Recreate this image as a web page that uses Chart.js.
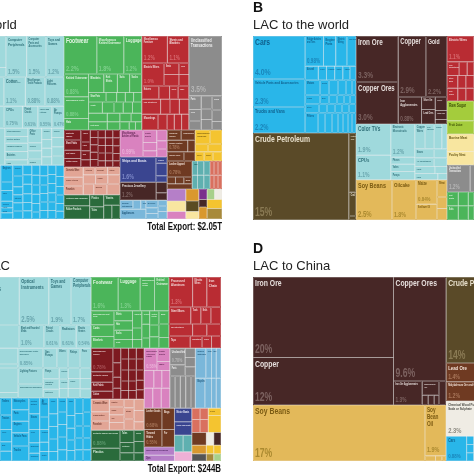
<!DOCTYPE html>
<html><head><meta charset="utf-8">
<style>
html,body{margin:0;padding:0;background:#fff;width:474px;height:474px;overflow:hidden;position:relative}
canvas{position:absolute;filter:blur(.4px)}
</style>
<script src="https://cdn.jsdelivr.net/npm/chart.js@4"></script>
</head><body>
<canvas id="a" width="310" height="237" style="left:-88px;top:0"></canvas>
<canvas id="b" width="310" height="237" style="left:253px;top:0"></canvas>
<canvas id="c" width="310" height="233" style="left:-89px;top:241px"></canvas>
<canvas id="d" width="310" height="233" style="left:253px;top:241px"></canvas>
<script>
// Node forms: number = unnamed product share; L(name,label,share) = named product;
// [sector?, share, ...children] = group of products (children are relative within the group).
const L=(n,p,v)=>({n,p,v});

const titles=["China to the world","LAC to the world","China to the LAC","LAC to China"];
const letters=["A","B","C","D"];
const totals=["Total Export: $2.05T","","Total Export: $244B",""];

// ---------- A: China to the world ----------
const aTeal1=['teal',11.0,[6.8,5.2,L('Telephones','1.6%',1.6)],L('Computer Peripherals','1.5%',1.5),L('Computer Parts and Accessories','1.5%',1.4),L('Toys and Games','1.2%',1.3)];
const aTeal2=['teal',7.8,4.7,L('Cotton...','1.1%',1.1),L('Miscellaneous Textile Products','0.88%',1.0),L('Light Fixtures','0.88%',.97)];
const aTeal3=['teal',5.9,3.6,L('CPUs','0.75%',.72),L('Printed Circuits','0.61%',.6),L('Valves and Fittings','0.55%',.55),L('Air Pumps','0.47%',.47)];
const aTeal4=['teal',9.9,6.05,
 [1.5,L('Stone Machines','',.3),L('Electric Motors','',.25),L('Vacuum Cleaners','',.3),L('Batteries','',.3),L('Fans','',.2)],
 [.9,L('Office Parts','',.35),L('Cables','',.2),.2,L('Razors','',.15)],
 [.65,L('Relays','',.2),.15,.15,.15],
 [.8,L('Clocks','',.2),.2,.2,.2]];
const aBlue=['sky',14.4,8.4,
 [1.14,L('Engines','',.4),.2,L('Cars','',.26),L('Vehicle Parts','',.15),L('Tires','',.12),.15],
 [.95,L('Trucks','',.2),.2,.15,L('Stoves','',.15),.15,.15],
 [.85,.15,.15,.15,.14,.13,.13],[.76,.14,.14,.13,.13,.12,.1],[.76,.15,.13,.12,.12,.12,.12],[.76,.13,.13,.13,.13,.12,.12],[.76,.16,.14,.12,.12,.11,.11]];
const aGreen=['green',12.9,
 [5.2,L('Footwear','2.2%',2.2),L('Miscellaneous Knitted Outerwear','1.8%',1.8),L('Luggage','1.2%',1.2)],
 [7.7,
  [25,L('Knitted Outerwear','0.88%',.9),L('Miscellaneous Textile','0.88%',.85),L('Hats','',.45)],
  [54,
   [1.9,L('Blankets','',.5),L('Knit Shirts','',.45),L('Suits','',.4),L('Socks','',.4)],
   [.95,L('Shoe Parts','',.3),.18,.15,.14,.14],
   [1.15,L('Coats','',.3),.25,.2,.2,.2],
   [.85,.3,.2,.18,.17],
   [.85,L('Knit Wear','',.3),.2,.15,.1,.1]]]];
const aRed=['red',7.8,
 [2.25,L('Miscellaneous Furniture','1.2%',1.2),L('Sheets and Blankets','1.1%',1.0)],
 [1.9,[.9,L('Electric Wires','1.0%',1)],[.6,L('Seats','',.3),.3],[.4,L('Tiles','',.2),.2]],
 [1.1,L('Knives','',.4),.25,L('Tools','',.2),L('Taps','',.25)],
 [1.25,L('Iron Structures','',.5),.25,.25,.25],
 [1.3,L('Mountings','',.45),.25,.2,.2,.2]];
const aGray=['gray',5.5,L('Unclassified Transactions','3.5%',3.5),
 [2.0,[.75,L('Parts','',.3),L('Toys','',.25),.2],[.65,.25,.2,.2],[.6,L('Wood','',.25),.2,.15]]];
const aDarkRed=['darkred',3.65,
 [1.1,L('Synthetic Fabrics','',.3),L('Sheet Fabric','',.3),L('Knit Fabric','',.25),L('Cotton Fabric','',.25)],
 [.62,L('Yarns','',.2),L('Lace','',.15),L('Silk','',.15),.12],
 [.5,.1,.1,.1,.1,.1],[.48,.1,.1,.1,.1,.08],[.48,.1,.1,.1,.1,.08],[.47,.1,.1,.1,.09,.08]];
const aSalmon=['salmon',2.75,
 [.95,L('Ceramic Ware','',.35),L('Glass Articles','',.3),L('Porcelain','',.3)],
 [1.8,[.5,L('Articles','',.16),L('Cement','',.17),L('Stone','',.17)],[.6,.2,L('Glass','',.2),.2],[.7,.2,L('Mirrors','',.25),.25]]];
const aDarkGreen=['dkgreen',2.4,
 [1.1,L('Fertilizers and Chemicals','',.5),L('Rubber Products','',.6)],
 [.6,L('Plastics','',.5),L('Tubes','',.5)],
 [.7,[.3,L('Vitamins','',.5)],[.4,.5,.5]]];
const aPink=['pink',2.25,L('Miscellaneous Articles of Plastic','0.99%',1.1),[.65,L('Plastic Sheets','',.3),.2,.15],[.5,.2,.15,.15]];
const aNavy=['navy',2.1,L('Ships and Boats','1.6%',1.6),[.5,L('Planes','',.12),.25,.13]];
const aDarkBrown=['iron',1.5,L('Precious Jewellery','1.2%',1.15),[.35,.2,.15]];
const aLightBlue=['ltblue',1.55,[.85,[.4,L('Medical Instruments','',.5),.3,L('Scales','',.2)],[.45,L('Appliances','',.5)]],[.4,L('Bicycles','',.4),.3,.3],[.3,.3,.3,.4]];
const aMix=[2.9,
 [1,['purple',.4],['cream',.35],['pink',.25]],
 [.7,['gold',.4],['olive',.35],['cream',.25]],
 [.45,['violet',.35],['iron',.25],['gold',.4]],
 [.8,[.35,['ltgreen',.5],['ivory',.5]],['yellow',.3],['tan',.35]]];
const aBottom3=[8.6,
 [3.0,['brown',1.53,[.5,L('Chemical Fabrics','',.25),L('Compounds','',.25)],[.55,L('Tanned Leather','0.78%',.55),.2],[.45,L('Rubber Tires','',.3),.2]],
      ['yellow',1.47,[.45,L('Miscellaneous Chemicals','',.25),.2],[.25,.12,.13],[.3,L('Dyes','',.1),L('Paint','',.1),.1]]],
 [2.7,['brown',1.23,L('Leather Apparel','0.78%',.7),[.3,.1,.1,L('Bags','',.1)],[.23,.23]],
      ['teal2',.88,[.45,L('Seafood','',.3),.35,.35],[.43,.3,.35,.35]],
      ['rose',.59,[.3,.3,.3,.3],[.29,.3,.3,.3]]],
 aMix];
const panelA=[100,
 [49,aTeal1,aTeal2,aTeal3,aTeal4,aBlue],
 [51,
  [26.2,aGreen,aRed,aGray],
  [24.8,[8.8,aDarkRed,aSalmon,aDarkGreen],[7.4,aPink,aNavy,aDarkBrown,aLightBlue],aBottom3]]];

// ---------- B: LAC to the world ----------
const bCars=['sky',17.5,
 [8.85,L('Cars','4.0%',3.9),L('Vehicle Parts and Accessories','2.3%',2.55),L('Trucks and Vans','2.2%',2.35)],
 [8.65,
  [2.7,L('Rubber Articles and Tires','0.98%',.95),L('Engine Parts','',.63),L('Electric Wiring','',.58),L('Tractors','',.47)],
  [1.25,L('Aircraft','',13),L('Tires','',8),L('Pumps','',8),L('Parts','',8),L('Valves','',7),6],
  [1.34,L('Motors','',15),L('Seats','',9),9,8,6,4],
  [.8,L('Glass','',15),L('Bus','',9),8,7,6,6],
  [.8,L('Steel','',14),8,8,7,7,7],
  [1.8,L('Filters','',13),7,7,6,5,5,4,4]]];
const bCrude=['crude',15.7,L('Crude Petroleum','15%',14.6),[1.1,L('Petroleum Gas','',.75),L('Coal','',.3),.05]];
const bBrown=['iron',14,
 [6.5,L('Iron Ore','3.3%',3.4),L('Copper Ores','3.0%',3.1)],
 [7.5,
  [5.2,L('Copper','2.9%',2.9),L('Gold','2.2%',2.2)],
  [2.3,L('Iron Agglomerates','0.88%',1.1),[.65,L('Silver Ore','',.3),L('Lead Ores','',.35)],[.55,L('Silver','',.3),L('Raw Iron','',.2),.1]]]];
const bTeal=['teal',8.9,
 [3.4,L('Color TVs','1.9%',1.9),L('CPUs','1.1%',1.5)],
 [2.35,L('Electronic Microcircuits','1.2%',1.4),L('Phones','',.3),L('Valves','',.3),L('Pumps','',.35)],
 [3.15,
  [1.4,L('Copper Wires','',.4),L('Gas Turbines','',.35),L('Transformers','',.3),.2],
  [.5,L('Stoves','',.3),.2],[.5,L('Air Conditioners','',.3),.2],[.4,L('Parts','',.25),.15],[.35,L('Fans','',.25),.1]]];
const bSoy=['soy',6.4,L('Soy Beans','2.5%',2.53),L('Oilcake','1.8%',1.69),
 [1.48,L('Maize','0.84%',.9),L('Sunflower Oil','',.58)],
 [.7,L('Wheat','',.3),.2,.2]];
const bRed=['red',13.2,
 [3.07,
  [1.22,L('Electric Wires','1.1%',1)],
  [.65,L('Iron Reductions','',.45),.3,.25],
  [.6,L('Steel Bars','',.4),.3,.3],
  [.6,L('Iron Pipes','',.4),.3,.3]],
 10.13];
const bLime=['lime',6.7,[1.56,L('Raw Sugar','',.94),L('Fruit Juice','',.62)],5.14];
const bCream=['cream',6.3,[1.47,L('Bovine Meat','',.83),L('Poultry Meat','',.64)],4.83];
const bGray=['gray',5.5,L('Unclassified Transactions','1.2%',1.1),4.4];
const bGreen=['green',5.7,[1.33,[.65,L('Knit Shirts','',.4),.35,.2],[.68,L('Suits','',.4),.35,.2]],4.37];
const panelB=[100,
 [33.2,bCars,bCrude],
 [29.3,bBrown,bTeal,bSoy],
 [37.4,bRed,bLime,bCream,bGray,bGreen]];

// ---------- C: China to LAC ----------
const cTeal1=['teal',15.2,5.3,L('Personal Computers','3.9%',3.9),L('Optical Instruments','2.5%',2.5),L('Toys and Games','1.9%',1.9),L('Computer Peripherals','1.7%',1.7)];
const cTeal2=['teal',7.3,4.35,L('Blank and Recorded Media','1.0%',1.0),L('Printed Circuits','0.61%',.65),L('Radiators','0.61%',.65),L('Electric Heaters','0.54%',.6)];
const cTeal3=['teal',6.3,[3.75,3.0,L('Semiconductor Devices','',.75)],L('Miscellaneous Textile Machinery','0.85%',.88),L('Gas Pumps','',.49),L('Valves','',.39),L('Relays','',.42),L('Fans','',.39)];
const cTeal4=['teal',9.5,[5.65,4.6,L('Office Machine Parts','',1.05)],
 [1.32,L('Lighting Fixtures','',.7),L('Miscellaneous Machinery','',.62)],
 [.85,L('Pumps','',.3),L('Industrial Printers','',.3),L('Batteries','',.25)],
 [.47,L('Cables','',.17),L('Clocks','',.15),.15],
 [.63,.22,L('Fuses','',.21),.2],[.58,.2,.2,.18]];
const cBlue=['sky',19.9,9.85,
 [1.3,L('Trailers','',.35),L('Tractors','',.3),L('Tires','',.25),L('Bus','',.2),.2],
 [1.9,L('Motorcycles','',.35),L('Parts','',.35),L('Engines','',.35),L('Vehicle Fans','',.4),L('Trucks','',.45)],
 [1.2,L('Electric Motors','',.3),L('Stoves','',.3),L('Gear','',.25),L('Bearings','',.2),L('Washers','',.15)],
 [1.0,L('Air Filters','',.3),.2,L('Cranes','',.2),.15,L('Seats','',.15)],
 [1.0,L('Tools','',.25),.2,.2,.2,.15],
 [1.0,L('Locks','',.22),.2,.2,.2,.18],
 [.9,L('Taps','',.25),.18,.17,.15,.15],[.9,.22,.18,.17,.17,.16],[.9,.2,.2,.17,.17,.16]];
const cGreen=['green',9.7,
 [4.6,L('Footwear','1.6%',1.6),L('Luggage','1.3%',1.3),L('Miscellaneous Textile Goods','',.85),L('Knitted Outerwear','',.85)],
 [5.1,
  [1.6,L('Miscellaneous Knit Wear','',.6),L('Coats','',.5),L('Blankets','',.5)],
  [1.3,L('Shirts','',.35),L('Hats','',.33),L('Socks','',.32),L('Suits','',.3)],
  [.65,L('Carpets','',.3),.2,.15],
  [.55,L('Gloves','',.2),.2,.15],
  [.65,L('Textile Scrap','',.25),.2,.2],
  [.7,L('Bags','',.25),.25,.2]]];
const cRed=['red',6.5,
 [2.75,L('Processed Aluminum','1.3%',1.25),L('Electric Wires','',.75),L('Iron Chain','',.75)],
 [1.55,[.65,L('Steel Bars','',1)],L('Tools','',.3),L('Nails','',.3),.3],
 [1.1,L('Iron Structures','',.5),.3,.3],
 [1.1,L('Taps','',.45),L('Mountings','',.25),L('Pipes','',.2),.2]];
const cDarkRed=['darkred',4.75,
 [1.95,L('Miscellaneous Fabrics','0.78%',.9),L('Synthetic Fabrics','',.4),L('Knit Fabric','',.35),L('Cotton','',.3)],
 [.7,.2,.2,.15,.15],[.7,.15,.15,.15,.13,.12],[.7,.15,.15,.15,.13,.12],[.7,.15,.15,.14,.13,.13]];
const cSalmon=['salmon',2.9,
 [1.0,L('Ceramic Ware','',.4),L('Glass Bottles','',.3),L('Porcelain','',.3)],
 [.8,L('Plaster','',.2),L('Glass','',.2),L('Tile','',.2),.2],
 [.55,.15,L('Stone','',.2),.2],[.55,.2,.2,.15]];
const cDarkGreen=['dkgreen',2.85,
 [1.55,L('Synthetic Rubber and Resins','0.88%',.9),L('Plastics','',.65)],
 [.75,L('Tubes','',.3),L('Fertilizer','',.25),.2],
 [.55,L('Glues','',.2),.2,.15]];
const cPink=['pink',2.7,[1,L('Miscellaneous Articles of Plastic','0.58%',.5),[.5,L('Plastic Sheets','',.6),L('Tubes','',.4)]],[.8,.3,.25,.25],[.9,.3,.3,.3]];
const cGray=['gray',2.7,[1.25,[.75,L('Unclassified','0.78%',.75),L('Parts','',.5)],[.5,.3,.3,.3]],[1.45,.3,.3,.3,.3,.25]];
const cLightBlue=['ltblue',2.7,[1.35,L('Medical Instruments','',.55),L('Scales','',.3),L('Meters','',.25),.25],[1.35,L('Bicycles','',.5),.35,.25,.25]];
const cBrownCol=[2.8,
 ['brown',2.05,[1.2,L('Leather Goods','0.68%',.55),L('Tanned Hides','0.55%',.45)],[.85,L('Bags','',.55),L('Fur','',.45)]],
 ['purple',.75,[1,L('Miscellaneous Chemicals','',.6),L('Dyes','',.4)]]];
const cNavyCol=[1.6,['navy',.82,[1,L('Motor Boats','',.5),L('Ships and Boats','',.5)]],['teal2',.5,.25,.25],['pinklt',.28]];
const cMix=[1.9,
 [1,['brown',.45],['gold',.3],['dkgray',.25]],
 [.5,['ivory',.45],['yellow',.3],['tan',.25]],
 [.5,['iron',.45],['yellow',.3],['ltgreen',.25]]];
const cRight3=[2.7,[1.6,['rose',.85,[.4,.5,.5],[.45,.5,.5]],['yellow',.65,L('Dyes','',.3),.7]],cMix];
const panelC=[100,
 [58.1,cTeal1,cTeal2,cTeal3,cTeal4,cBlue],
 [41.9,
  [16.2,cGreen,cRed],
  [25.7,
   [10.5,cDarkRed,cSalmon,cDarkGreen],
   [15.2,[8.1,cPink,cGray,cLightBlue],[7.1,cBrownCol,cNavyCol,cRight3]]]]];

// ---------- D: LAC to China ----------
const dBrown=['iron',43.3,
 [31.5,L('Iron Ore','20%',20),L('Copper','12%',11.8)],
 [11.8,L('Copper Ores','9.6%',9.6),
  [2.2,L('Iron Ore Agglomerates','1.3%',1.2),
   [.7,L('Molybdenum Ore','',.42),[.28,.1,.1,.08]],.3]]];
const dSoy=['soy',19,L('Soy Beans','17%',17),[2.1,L('Soy Bean Oil','1.9%',1.9),[.2,.1,.06,.04]]];
const dRight=[30,
 ['crude',13.9,L('Crude Petroleum','14%',14)],
 ['brown',6.1,[3.2,L('Lead Ore','1.4%',3),L('Molybdenum Ore and Concentrate','1.2%',3.1)],2.9],
 [5.7,['ivory',2.3,L('Chemical Wood Pulp of Soda or Sulphate','2.3%',2.3)],['ivory',3.4]],
 ['sky',4.0,L('Cars','0.88%',.88),[.3,.1,.1,.1],2.82]];
const panelD=[100,[62.3,dBrown,dSoy],[37.7,[1,dRight,['ivory',7.7]]]];

const panels=[panelA,panelB,panelC,panelD];

// ---------- styles ----------
const sectorColors={
 teal:['#9fd9dc','#86c3c8','#2f6f78','#6aa6ae'],
 sky:['#29b6e9','#1c9ed0','#0f5f8c','#1a86bb'],
 green:['#4bb55a','#3fa04e','#e4f5e4','#7fd08c'],
 red:['#b92c33','#9f2329','#f3dcdc','#d86a70'],
 gray:['#8c8c8c','#767676','#efefef','#b5b5b5'],
 darkred:['#7d1a20','#661318','#f0dcdc','#a85258'],
 salmon:['#e2a595','#cc9082','#6a3328','#c98876'],
 dkgreen:['#2a6b3c','#225a31','#dcefe0','#5d9a6f'],
 pink:['#d982bf','#c36fa9','#5e2450','#eab0d8'],
 navy:['#3a4590','#2f397b','#e6e8f6','#7f8ac8'],
 iron:['#472726','#381c1b','#e6dedc','#7c6260'],
 ltblue:['#7ab7da','#67a4c8','#1f5679','#5a9ac0'],
 brown:['#6f3a22','#5d2e19','#f2e2d8','#a67458'],
 yellow:['#f4c430','#dcae24','#6a500c','#cfa424'],
 teal2:['#5fb0b0','#4e9c9c','#174f4f','#3f8c8c'],
 rose:['#d9705f','#c56050','#6a2418','#bd5a4a'],
 purple:['#b57fc8','#a26fb5','#4c2460','#9a66ad'],
 violet:['#7a2f8c','#682678','#fff','#fff'],
 gold:['#d9982e','#c48726','#5a3c08','#5a3c08'],
 olive:['#5a4c22','#4a3d18','#eee','#eee'],
 cream:['#f8e6a0','#e2cf86','#6a5a18','#bba860'],
 pinklt:['#eeb0d6','#dd9dc5','#555','#555'],
 ltgreen:['#a8d08a','#97bf79','#333','#333'],
 ivory:['#efece4','#d9d5cb','#4a4a44','#8d8b82'],
 tan:['#a88a3a','#97792c','#333','#333'],
 dkgray:['#555','#444','#eee','#eee'],
 crude:['#5a4a28','#4b3c1e','#e8e0cc','#8a7a54'],
 soy:['#e3b95a','#cfa548','#7a5a12','#ab8a30'],
 lime:['#a4cc3c','#92b832','#3e5206','#7d9c24'],
 none:['#888','#777','#fff','#fff']
};
const BOLD='"Liberation Sans",Arial,sans-serif';
const CONDENSE=.72;

// ---------- treemap layout from the values ----------
function weight(n){ if(typeof n==='number')return n; if(!Array.isArray(n))return n.v; return typeof n[0]==='string'?n[1]:n[0]; }
function layout(n,x0,y0,x1,y1,vertical,sector,out){
  if(typeof n==='number'||!Array.isArray(n)){
    out.push({x:(x0+x1)/2,y:(y0+y1)/2,x0,y0,x1,y1,sector,name:n.n||'',label:n.p||''});return;
  }
  let s=sector,kids;
  if(typeof n[0]==='string'){s=n[0];kids=n.slice(2);}else{kids=n.slice(1);}
  if(!kids.length){out.push({x:(x0+x1)/2,y:(y0+y1)/2,x0,y0,x1,y1,sector:s,name:'',label:''});return;}
  const tot=kids.reduce((a,k)=>a+weight(k),0);let pos=vertical?y0:x0;
  const span=vertical?(y1-y0):(x1-x0);
  kids.forEach(k=>{const d=span*weight(k)/tot;
    if(vertical)layout(k,x0,pos,x1,pos+d,false,s,out);else layout(k,pos,y0,pos+d,y1,true,s,out);
    pos+=d;});
}

// ---------- Chart.js treemap controller (draws bar elements) ----------
class TreemapController extends Chart.DatasetController{
  update(mode){const m=this._cachedMeta;this.updateElements(m.data,0,m.data.length,mode);}
  updateElements(els,start,count){
    const m=this._cachedMeta,xs=m.xScale,ys=m.yScale,data=this.getDataset().data;
    for(let i=start;i<start+count;i++){
      const d=data[i],l=xs.getPixelForValue(d.x0),r=xs.getPixelForValue(d.x1),t=ys.getPixelForValue(d.y0),b=ys.getPixelForValue(d.y1);
      this.updateElement(els[i],i,{x:(l+r)/2,y:t,base:b,width:r-l,height:b-t,horizontal:false,inflateAmount:0,
        borderSkipped:{top:false,left:false,bottom:false,right:false},enableBorderRadius:false,
        options:this.resolveDataElementOptions(i,'none')},'none');
    }
  }
}
TreemapController.id='treemap';
TreemapController.defaults={dataElementType:'bar',datasetElementType:false};
TreemapController.overrides={scales:{x:{type:'linear'},y:{type:'linear'}}};
Chart.register(TreemapController);

function wrap(ctx,text,w){const out=[];let line='';
  text.split(' ').forEach(word=>{const t=line?line+' '+word:word;
    if(line&&ctx.measureText(t).width*CONDENSE>w){out.push(line);line=word;}else line=t;});
  if(line)out.push(line);return out;}
function condensed(ctx,s,x,y){ctx.save();ctx.translate(x,y);ctx.scale(CONDENSE,1);ctx.fillText(s,0,0);ctx.restore();}

const cellLabels={id:'cellLabels',
  afterDatasetsDraw(chart,args,opts){
    const ctx=chart.ctx,meta=chart.getDatasetMeta(0),data=chart.data.datasets[0].data;
    ctx.save();ctx.textAlign='left';
    meta.data.forEach((el,i)=>{
      const d=data[i];if(!d.name&&!d.label)return;
      const w=el.width,h=el.height,left=el.x-w/2,top=el.y,pal=sectorColors[d.sector]||sectorColors.none;
      const root=Math.sqrt(w*h);
      ctx.save();ctx.beginPath();ctx.rect(left,top,w,h);ctx.clip();
      if(d.name){
        let fs=Math.max(2.5,Math.min(9.5,root*.2));
        if(root<60){ if(d.name.length>20)fs*=.55; else if(d.name.length>12)fs*=.72; }
        fs=Math.max(2.5,fs);
        ctx.font='bold '+fs+'px '+BOLD;
        const longest=Math.max(...d.name.split(' ').map(s=>ctx.measureText(s).width*CONDENSE));
        if(longest>w-2){fs=Math.max(2.5,fs*(w-2)/longest);ctx.font='bold '+fs+'px '+BOLD;}
        ctx.fillStyle=pal[2];ctx.textBaseline='top';
        wrap(ctx,d.name,w-3).forEach((s,j)=>condensed(ctx,s,left+2,top+2+j*fs*1.05));
      }
      if(d.label){
        const ps=Math.max(2.5,Math.min(12,3+root*.14));
        ctx.font='bold '+ps+'px '+BOLD;ctx.fillStyle=pal[3];ctx.textBaseline='bottom';
        condensed(ctx,d.label,left+2,top+h-1.5);
      }
      ctx.restore();
    });
    if(opts.footer){
      ctx.font='bold 10.5px '+BOLD;ctx.fillStyle='#111';ctx.textAlign='right';ctx.textBaseline='top';
      ctx.save();ctx.translate(chart.chartArea.right,chart.chartArea.bottom+3);ctx.scale(.75,1);ctx.fillText(opts.footer,0,0);ctx.restore();
    }
    ctx.restore();
  }};

['a','b','c','d'].forEach((id,i)=>{
  const cells=[];layout(panels[i],0,0,100,100,false,'none',cells);
  new Chart(document.getElementById(id),{
    type:'treemap',
    data:{datasets:[{label:titles[i],data:cells,parsing:false,normalized:true,
      backgroundColor:c=>(sectorColors[c.raw.sector]||sectorColors.none)[0],
      borderColor:c=>(sectorColors[c.raw.sector]||sectorColors.none)[1],
      borderWidth:.5,borderRadius:0}]},
    plugins:[cellLabels],
    options:{responsive:false,animation:false,devicePixelRatio:1,
      layout:{padding:{left:0,right:0,top:0,bottom:[18,17,13,13][i]}},
      events:[],
      scales:{x:{type:'linear',min:0,max:100,display:false},y:{type:'linear',min:0,max:100,reverse:true,display:false}},
      plugins:{legend:{display:false},tooltip:{enabled:false},
        title:{display:true,text:letters[i],align:'start',color:'#111',
          font:{family:'"Liberation Sans",Arial,sans-serif',size:14,weight:'bold',lineHeight:1},padding:{top:1,bottom:3}},
        subtitle:{display:true,text:titles[i],align:'start',color:'#222',
          font:{family:'"Liberation Sans",Arial,sans-serif',size:13,weight:'normal',lineHeight:1},padding:{top:1,bottom:4}},
        cellLabels:{footer:totals[i]}}}
  });
});
</script>
</body></html>
